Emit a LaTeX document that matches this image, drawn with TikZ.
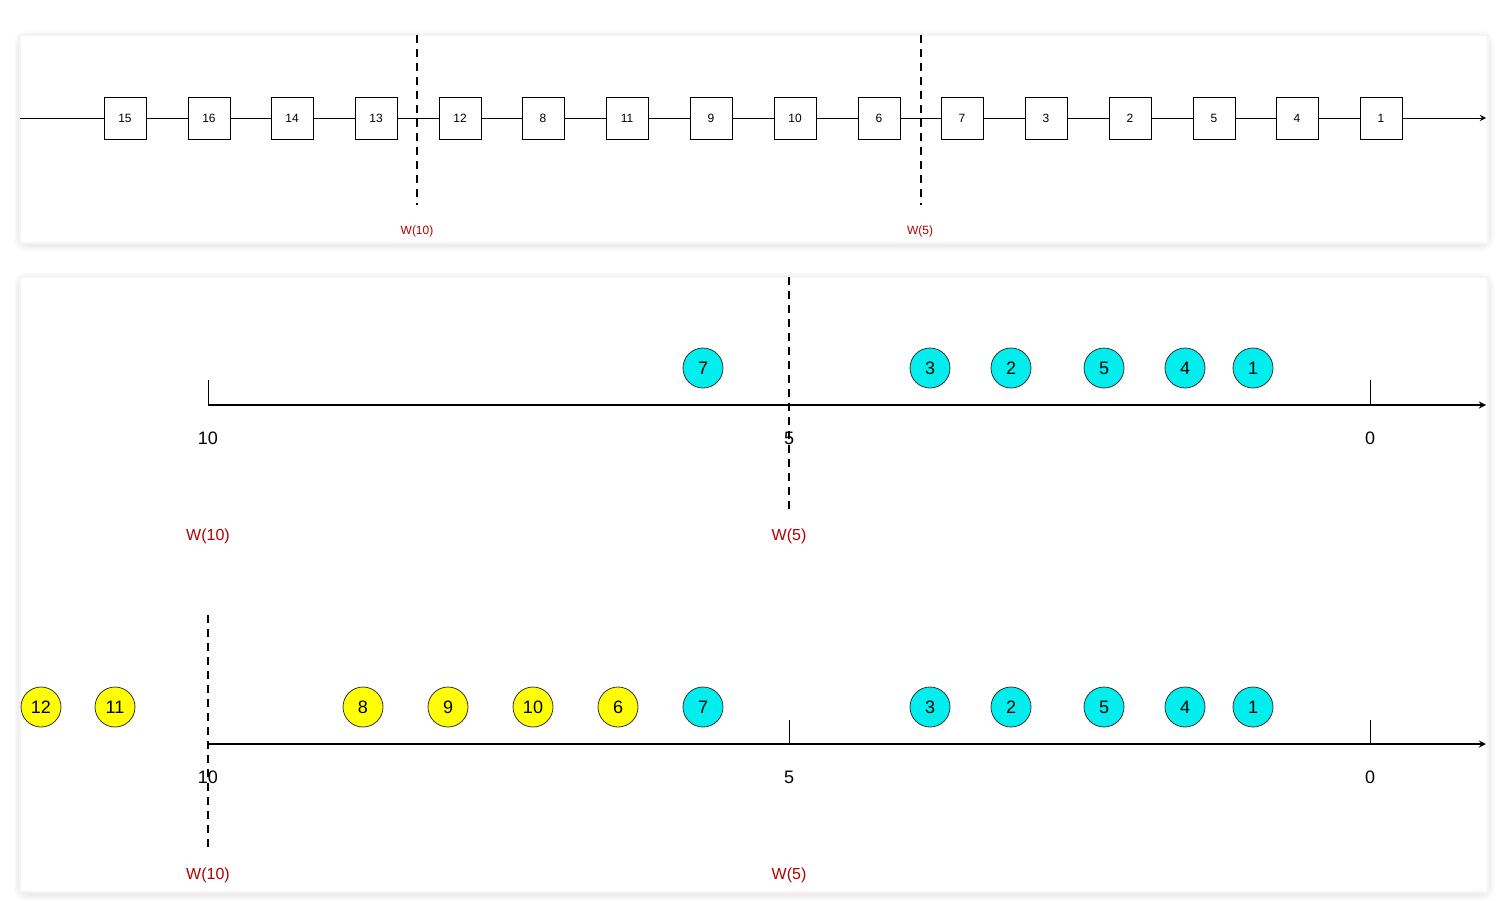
\documentclass[tikz,border=0pt]{standalone}
\usepackage{fontspec}
\setmainfont{Liberation Sans}
\definecolor{cyanrgb}{RGB}{0,238,238}
\definecolor{yel}{RGB}{255,255,0}
\begin{document}
\begin{tikzpicture}[x=0.5pt,y=-0.5pt,
 card/.style={fill=white,draw=black!4,line width=0.6pt},
 box/.style={draw,fill=white,minimum width=21pt,minimum height=21pt,inner sep=0pt,font=\fontsize{6}{7}\selectfont},
 cc/.style={circle,draw=black!80,fill=cyanrgb,minimum size=20pt,inner sep=0pt,font=\fontsize{9}{10}\selectfont},
 yc/.style={cc,fill=yel},
 wl/.style={text=red!70!black,font=\fontsize{8}{9}\selectfont},
 wls/.style={text=red!70!black,font=\fontsize{6}{7}\selectfont},
 num/.style={font=\fontsize{9}{10}\selectfont},
 dl/.style={dashed,line width=1pt,dash pattern=on 4pt off 3pt},
 ax/.style={-stealth,line width=0.6pt}]
\useasboundingbox (0,0) rectangle (1510,900);
\fill[white] (0,0) rectangle (1510,900);
\foreach \d in {6,4,2}{
 \fill[black,opacity=0.025,rounded corners=6pt] (20-\d,35-\d+2) rectangle (1488+\d,243+\d+2);
 \fill[black,opacity=0.025,rounded corners=6pt] (20-\d,277-\d+2) rectangle (1488+\d,892+\d+2);}
\draw[card] (20,35) rectangle (1488,243);
\draw[card] (20,277) rectangle (1488,892);
% top
\coordinate (ls) at (20,118); \coordinate (le) at (1486,118);
\draw[ax,line width=0.4pt] (ls) -- (le);
\foreach \x/\t in {125/15,209/16,292/14,376/13,460/12,543/8,627/11,711/9,795/10,879/6,962/7,1046/3,1130/2,1214/5,1297/4,1381/1}
 \node[box] (b\t) at (\x,118) {\t};
\coordinate (d1a) at (417,35); \coordinate (d1b) at (417,205);
\coordinate (d2a) at (921,35); \coordinate (d2b) at (921,205);
\draw[dl,line width=0.7pt] (d1a) -- (d1b); \draw[dl,line width=0.7pt] (d2a) -- (d2b);
\node[wls] (tw10) at (417,231) {W(10)};
\node[wls] (tw5) at (920,231) {W(5)};
% axis 1
\coordinate (a1s) at (208,405); \coordinate (a1e) at (1486,405);
\draw[ax] (a1s) -- (a1e);
\draw (208,380) -- (208,405); \draw (1370,380) -- (1370,405);
\node[num] (n10a) at (208,438) {10}; \node[num] (n5a) at (789,438) {5}; \node[num] (n0a) at (1370,438) {0};
\coordinate (e1a) at (789,277); \coordinate (e1b) at (789,512);
\draw[dl] (e1a) -- (e1b);
\node[wl] (w10a) at (208,536) {W(10)}; \node[wl] (w5a) at (789,536) {W(5)};
\foreach \x/\t in {703/7,930/3,1011/2,1104/5,1185/4,1253/1} \node[cc] (ca\t) at (\x,368) {\t};
% axis 2
\coordinate (a2s) at (208,744); \coordinate (a2e) at (1486,744);
\draw[ax] (a2s) -- (a2e);
\draw (789,720) -- (789,744); \draw (1370,720) -- (1370,744);
\node[num] (n10b) at (208,777) {10}; \node[num] (n5b) at (789,777) {5}; \node[num] (n0b) at (1370,777) {0};
\coordinate (e2a) at (208,615); \coordinate (e2b) at (208,852);
\draw[dl] (e2a) -- (e2b);
\node[wl] (w10b) at (208,875) {W(10)}; \node[wl] (w5b) at (789,875) {W(5)};
\foreach \x/\t in {41/12,115/11,363/8,448/9,533/10,618/6} \node[yc] (cy\t) at (\x,707) {\t};
\foreach \x/\t in {703/7,930/3,1011/2,1104/5,1185/4,1253/1} \node[cc] (cb\t) at (\x,707) {\t};
\end{tikzpicture}
\end{document}
